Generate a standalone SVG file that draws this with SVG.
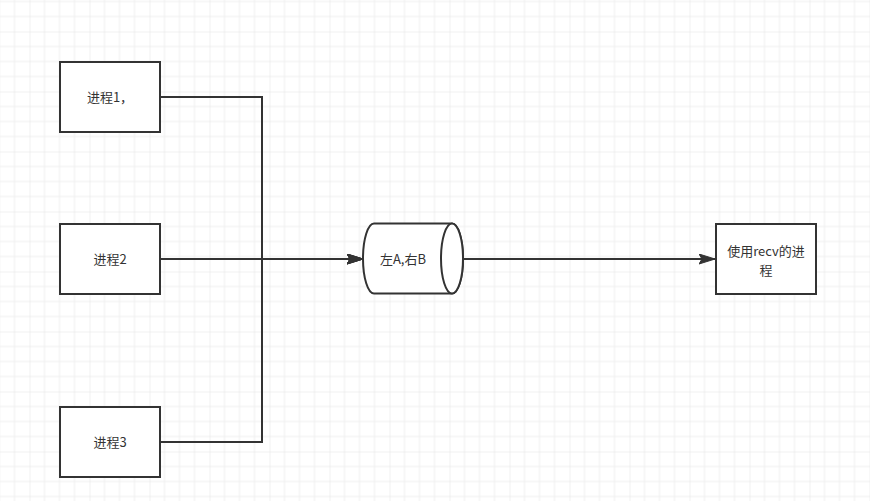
<svg xmlns="http://www.w3.org/2000/svg" width="870" height="501" viewBox="0 0 870 501">
<style>
.node{fill:#ffffff;stroke:#333333;stroke-width:2}
.lbl{font-family:"Noto Sans CJK SC","Microsoft YaHei",sans-serif;font-size:13px;fill:#333333;text-anchor:middle}
.edge{fill:none;stroke:#333333;stroke-width:2}
</style>
<defs>
<pattern id="grid" width="60" height="60" patternUnits="userSpaceOnUse" patternTransform="translate(29.5 31.5)">
<path d="M15,0V60M30,0V60M45,0V60M0,15H60M0,30H60M0,45H60" stroke="#efefef" stroke-width="1" fill="none"/>
<path d="M0,0V60M0,0H60" stroke="#e3e3e3" stroke-width="1" fill="none"/>
</pattern>
<marker id="arrow" markerUnits="userSpaceOnUse" markerWidth="17" markerHeight="11" refX="16" refY="5" orient="auto">
<path d="M0,0L16,5L0,10L3,5Z" fill="#333333" stroke="#333333" stroke-width="1"/>
</marker>
</defs>
<rect x="0" y="0" width="870" height="501" fill="#ffffff"/>
<rect x="0" y="0" width="870" height="501" fill="url(#grid)"/>
<g id="connectors">
<path class="edge" d="M160,97H262V259H363" marker-end="url(#arrow)"/>
<path class="edge" d="M160,442H262V259H363" marker-end="url(#arrow)"/>
<path class="edge" d="M160,259H363" marker-end="url(#arrow)"/>
<path class="edge" d="M463,259H715" marker-end="url(#arrow)"/>
</g>
<g id="p1">
<rect class="node" x="60" y="62" width="100" height="70"/>
<text class="lbl" x="110" y="101.5">进程1，</text>
</g>
<g id="p2">
<rect class="node" x="60" y="224" width="100" height="70"/>
<text class="lbl" x="110" y="263.5">进程2</text>
</g>
<g id="p3">
<rect class="node" x="60" y="407" width="100" height="70"/>
<text class="lbl" x="110" y="446.5">进程3</text>
</g>
<g id="queue">
<path class="node" d="M374,223.5H452A11,35 0 0 1 452,293.5H374A11,35 0 0 1 374,223.5Z"/>
<ellipse class="node" cx="452" cy="258.5" rx="11" ry="35" fill="none"/>
<text class="lbl" x="403" y="263.5">左A,右B</text>
</g>
<g id="recv">
<rect class="node" x="716" y="224" width="100" height="70"/>
<text class="lbl" x="766" y="255.5">使用recv的进</text>
<text class="lbl" x="766" y="274.5">程</text>
</g>
</svg>
